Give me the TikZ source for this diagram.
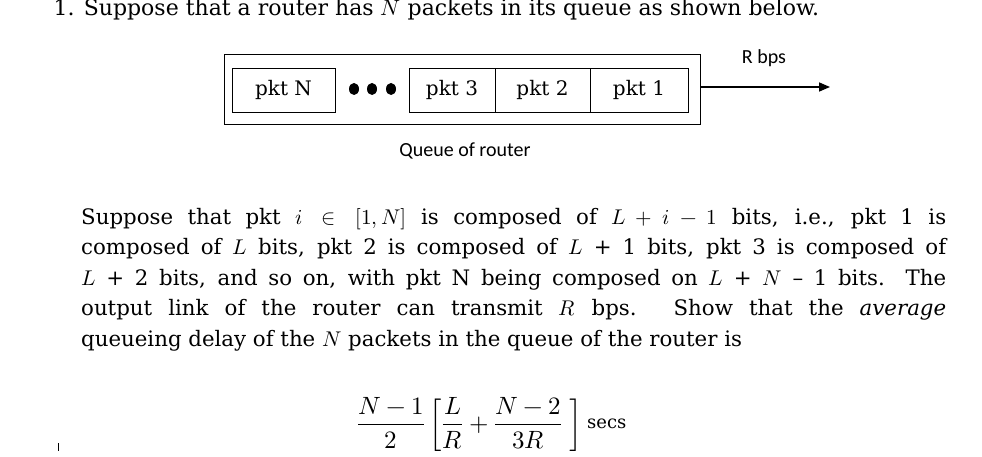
\documentclass[tikz,border=0pt]{standalone}
\usepackage{unicode-math}
\setmainfont{DejaVu Serif}
\setmathfont{Latin Modern Math}
\newfontfamily\calib{Carlito}
\usetikzlibrary{arrows.meta}
\begin{document}
\begin{tikzpicture}[x=1pt,y=-1pt,
  pkt/.style={draw,thick,minimum height=44pt,inner sep=0pt,font=\fontsize{20}{22}\selectfont},
  lbl/.style={font=\calib\fontsize{20}{22}\selectfont}]
\useasboundingbox (0,0) rectangle (982,457);
\node[anchor=base west,font=\fontsize{22}{24}\selectfont] (title) at (50,16) {1. Suppose that a router has $N$ packets in its queue as shown below.};
\node[draw,thick,minimum width=476pt,minimum height=70pt,inner sep=0pt] (outer) at (462,89) {};
\node[pkt,minimum width=103pt] (pN) at (283.5,90) {pkt N};
\node[pkt,minimum width=86pt] (p3) at (452,90) {pkt 3};
\node[pkt,minimum width=95pt] (p2) at (542.5,90) {pkt 2};
\node[pkt,minimum width=98pt] (p1) at (639,90) {pkt 1};
\foreach \i/\xx in {1/354,2/372,3/391} \fill (\xx,89) ellipse (5pt and 6pt);
\coordinate (end) at (830,87);
\draw[line width=1.6pt,-{Triangle[length=11pt,width=9pt]}] (outer.east|-end) -- (end);
\node[lbl] (rbps) at (764,58) {R bps};
\node[lbl] (q) at (465,151) {Queue of router};
\node[anchor=north west,text width=865pt,align=justify,inner sep=0pt,font=\fontsize{21.3}{30.5}\selectfont] (para) at (81,208)
{Suppose that pkt $i\in[1,N]$ is composed of $L+i-1$ bits, i.e., pkt 1 is\linebreak
composed of $L$ bits, pkt 2 is composed of $L$ + 1 bits, pkt 3 is composed of\linebreak
$L$ + 2 bits, and so on, with pkt N being composed on $L$ + $N$ -- 1 bits. The\linebreak
output link of the router can transmit $R$ bps. Show that the \textit{average}\linebreak
queueing delay of the $N$ packets in the queue of the router is};
\node[anchor=east,inner sep=0pt,font=\fontsize{25}{28}\selectfont] (f) at (582,424) {$\displaystyle\frac{N-1}{2}\left[\frac{L}{R}+\frac{N-2}{3R}\;\right]$};
\node[anchor=west,inner sep=0pt,font=\fontsize{18}{20}\selectfont] (secs) at (587,424) {secs};
\draw (58,443) -- (58,451);
\end{tikzpicture}
\end{document}
